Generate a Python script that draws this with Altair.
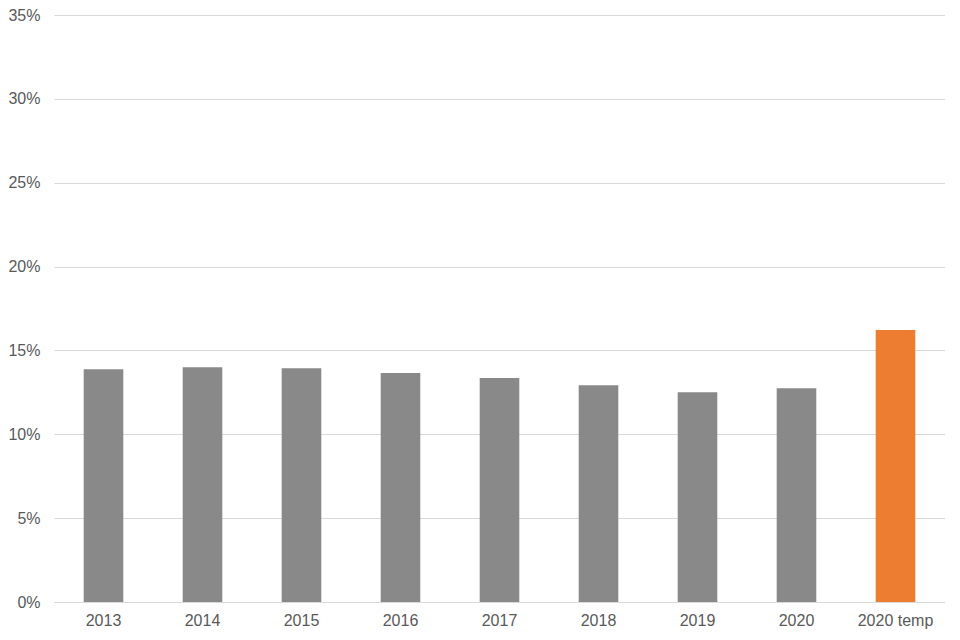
import altair as alt
import pandas as pd

years = ["2013", "2014", "2015", "2016", "2017", "2018", "2019", "2020", "2020 temp"]
values = [0.1388, 0.1400, 0.1394, 0.1365, 0.1335, 0.1293, 0.1251, 0.1275, 0.1622]
groups = ["base"] * 8 + ["temp"]

df = pd.DataFrame({"year": years, "value": values, "group": groups})

chart = alt.Chart(df).mark_bar().encode(
    x=alt.X("year:N", sort=years, title=None,
            scale=alt.Scale(paddingInner=0.6, paddingOuter=0.3),
            axis=alt.Axis(labelAngle=0, labelFont="Liberation Sans", labelFontSize=16,
                          labelColor="#595959", ticks=False, domain=True, domainColor="#d9d9d9",
                          labelPadding=10, grid=False)),
    y=alt.Y("value:Q", title=None,
            scale=alt.Scale(domain=[0, 0.35], nice=False),
            axis=alt.Axis(values=[0, 0.05, 0.10, 0.15, 0.20, 0.25, 0.30, 0.35], format=".0%",
                          labelFont="Liberation Sans", labelFontSize=16, labelColor="#595959",
                          ticks=False, domain=False, gridColor="#d9d9d9", labelPadding=14)),
    color=alt.Color("group:N", scale=alt.Scale(domain=["base", "temp"], range=["#898989", "#ED7D31"]),
                    legend=None),
).properties(
    width=891, height=587,
    autosize=alt.AutoSizeParams(type="none"),
    padding={"left": 46, "top": 7, "right": 0, "bottom": 30},
).configure_view(stroke=None)

chart.save("out.html", embed_options={"renderer": "svg", "actions": False})
